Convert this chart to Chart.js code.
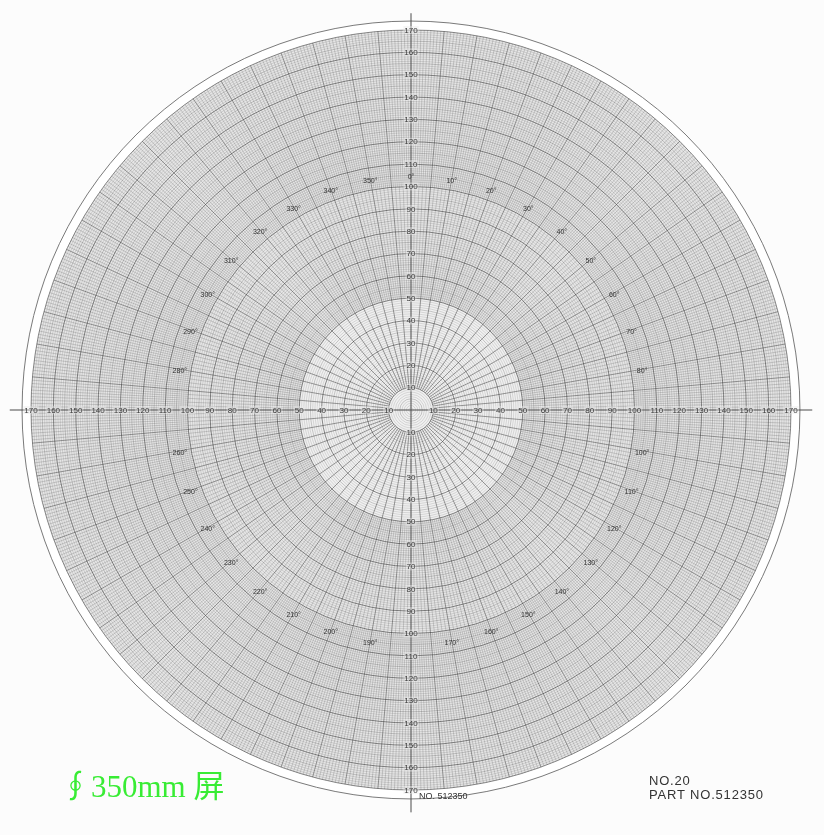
<!DOCTYPE html>
<html>
<head>
<meta charset="utf-8">
<script src="https://cdn.jsdelivr.net/npm/chart.js@4.4.1/dist/chart.umd.min.js"></script>
<style>
  html, body { margin: 0; padding: 0; background: #fcfcfc; }
  #wrap { position: relative; width: 824px; height: 835px; }
</style>
</head>
<body>
<div id="wrap"><canvas id="polarGrid"></canvas></div>
<script>
// radial scale labels printed along both axes (units)
const radiusTicks = [10, 20, 30, 40, 50, 60, 70, 80, 90, 100, 110, 120, 130, 140, 150, 160, 170];

// angle labels, clockwise from the top
const angleLabels = [
  "0°", "10°", "20°", "30°", "40°", "50°", "60°", "70°", "80°",
  "90°", "100°", "110°", "120°", "130°", "140°", "150°", "160°", "170°",
  "180°", "190°", "200°", "210°", "220°", "230°", "240°", "250°", "260°",
  "270°", "280°", "290°", "300°", "310°", "320°", "330°", "340°", "350°",
];
// these sit on the axes and are not printed
const hiddenAngles = ["90°", "180°", "270°"];

// zone boundaries of the chart (units)
const innerDisc = 10;
const innerZone = 50;
const midZone = 100;
const gridMax = 170;
const angleLabelRadius = 105;

const footerLines = ["NO.20", "PART NO.512350"];
const rimText = "NO. 512350";
const stampText = "∮350mm 屏";

const comparatorPlugin = {
  id: "comparatorGrid",
  beforeDraw(chart) {
    const { ctx } = chart;
    const s = chart.scales.r;
    ctx.save();
    ctx.fillStyle = "#fcfcfc";
    ctx.fillRect(0, 0, chart.width, chart.height);

    // plate
    ctx.beginPath();
    ctx.arc(s.xCenter, s.yCenter, s.getDistanceFromCenterForValue(174), 0, Math.PI * 2);
    ctx.fillStyle = "#ffffff";
    ctx.fill();

    // paper tone of the printed area
    ctx.beginPath();
    ctx.arc(s.xCenter, s.yCenter, s.getDistanceFromCenterForValue(gridMax), 0, Math.PI * 2);
    ctx.fillStyle = "#e6e6e6";
    ctx.fill();
    ctx.beginPath();
    ctx.arc(s.xCenter, s.yCenter, s.getDistanceFromCenterForValue(innerZone), 0, Math.PI * 2);
    ctx.fillStyle = "#f0f0f0";
    ctx.fill();
    ctx.restore();
  },
  afterDraw(chart) {
    const { ctx } = chart;
    const s = chart.scales.r;
    const step = 360 / chart.data.labels.length;
    const dist = (v) => s.getDistanceFromCenterForValue(v);
    const spoke = (deg, from, to) => {
      const a = s.getPointPosition(deg / step, dist(from));
      const b = s.getPointPosition(deg / step, dist(to));
      ctx.moveTo(a.x, a.y);
      ctx.lineTo(b.x, b.y);
    };

    ctx.save();

    // fine spokes: whole degrees from 50, half degrees from 100
    ctx.beginPath();
    for (let d = 0; d < 360; d += 0.5) {
      if (d % 5 === 0) continue;
      if (d % 1 === 0) spoke(d, innerZone, gridMax);
      else spoke(d, midZone, gridMax);
    }
    ctx.strokeStyle = "rgba(60,60,60,0.34)";
    ctx.lineWidth = 0.6;
    ctx.stroke();

    // main spokes every 5 degrees
    ctx.beginPath();
    for (let d = 0; d < 360; d += 5) {
      if (d % 90 !== 0) spoke(d, innerDisc, gridMax);
    }
    ctx.strokeStyle = "rgba(40,40,40,0.55)";
    ctx.lineWidth = 0.8;
    ctx.stroke();

    // plate rim
    ctx.beginPath();
    ctx.arc(s.xCenter, s.yCenter, dist(174), 0, Math.PI * 2);
    ctx.strokeStyle = "#7a7a7a";
    ctx.lineWidth = 1;
    ctx.stroke();

    // cross axes, running past the rim
    ctx.beginPath();
    const ext = dist(179.5);
    ctx.moveTo(s.xCenter - ext, s.yCenter);
    ctx.lineTo(s.xCenter + ext, s.yCenter);
    ctx.moveTo(s.xCenter, s.yCenter - dist(177.5));
    ctx.lineTo(s.xCenter, s.yCenter + dist(180));
    ctx.strokeStyle = "#4a4a4a";
    ctx.lineWidth = 1;
    ctx.stroke();

    // radius numbers on the four half axes
    ctx.font = "8px 'Liberation Sans', Arial, sans-serif";
    ctx.textAlign = "center";
    ctx.textBaseline = "middle";
    const axisIdx = [0, 9, 18, 27];
    radiusTicks.forEach((v) => {
      axisIdx.forEach((i) => {
        const p = s.getPointPosition(i, dist(v));
        const w = ctx.measureText(String(v)).width;
        ctx.fillStyle = "rgba(235,235,235,0.45)";
        ctx.fillRect(p.x - w / 2 - 1, p.y - 4, w + 2, 8);
        ctx.fillStyle = "#3a3a3a";
        ctx.fillText(String(v), p.x, p.y + 0.5);
      });
    });

    // angle numbers
    ctx.font = "7px 'Liberation Sans', Arial, sans-serif";
    ctx.fillStyle = "#333333";
    chart.data.labels.forEach((lab, i) => {
      if (hiddenAngles.includes(lab)) return;
      const p = s.getPointPosition(i, dist(angleLabelRadius));
      ctx.fillText(lab, p.x, p.y + 2);
    });

    // printed part numbers
    ctx.textAlign = "left";
    ctx.textBaseline = "alphabetic";
    ctx.fillStyle = "#333333";
    ctx.font = "9px 'Liberation Sans', Arial, sans-serif";
    ctx.fillText(rimText, 419, 799);

    ctx.font = "13px 'Liberation Sans', Arial, sans-serif";
    ctx.letterSpacing = "0.8px";
    ctx.fillText(footerLines[0], 649, 785);
    ctx.fillText(footerLines[1], 649, 799);
    ctx.letterSpacing = "0px";

    // green stamp
    ctx.fillStyle = "#38ec34";
    ctx.font = "31px 'Liberation Serif', 'DejaVu Serif', 'Noto Sans CJK SC', serif";
    ctx.fillText(stampText, 60, 797);

    ctx.restore();
  },
};

new Chart(document.getElementById("polarGrid"), {
  type: "radar",
  data: {
    labels: angleLabels,
    datasets: [],
  },
  options: {
    responsive: true,
    maintainAspectRatio: false,
    animation: false,
    layout: {
      padding: { left: 31, top: 30, right: 33, bottom: 45 },
    },
    plugins: {
      legend: { display: false },
      tooltip: { enabled: false },
    },
    scales: {
      r: {
        min: 0,
        max: gridMax,
        startAngle: 0,
        ticks: { stepSize: 1, display: false },
        pointLabels: { display: false },
        angleLines: { display: false },
        grid: {
          circular: true,
          color: (c) => {
            const v = c.tick.value;
            if (v % 10 === 0) return "rgba(40,40,40,0.60)";
            if (v % 5 === 0) return "rgba(60,60,60,0.42)";
            return "rgba(90,90,90,0.30)";
          },
          lineWidth: (c) => (c.tick.value % 10 === 0 ? 0.9 : 0.6),
        },
      },
    },
  },
  plugins: [comparatorPlugin],
});
</script>
</body>
</html>
